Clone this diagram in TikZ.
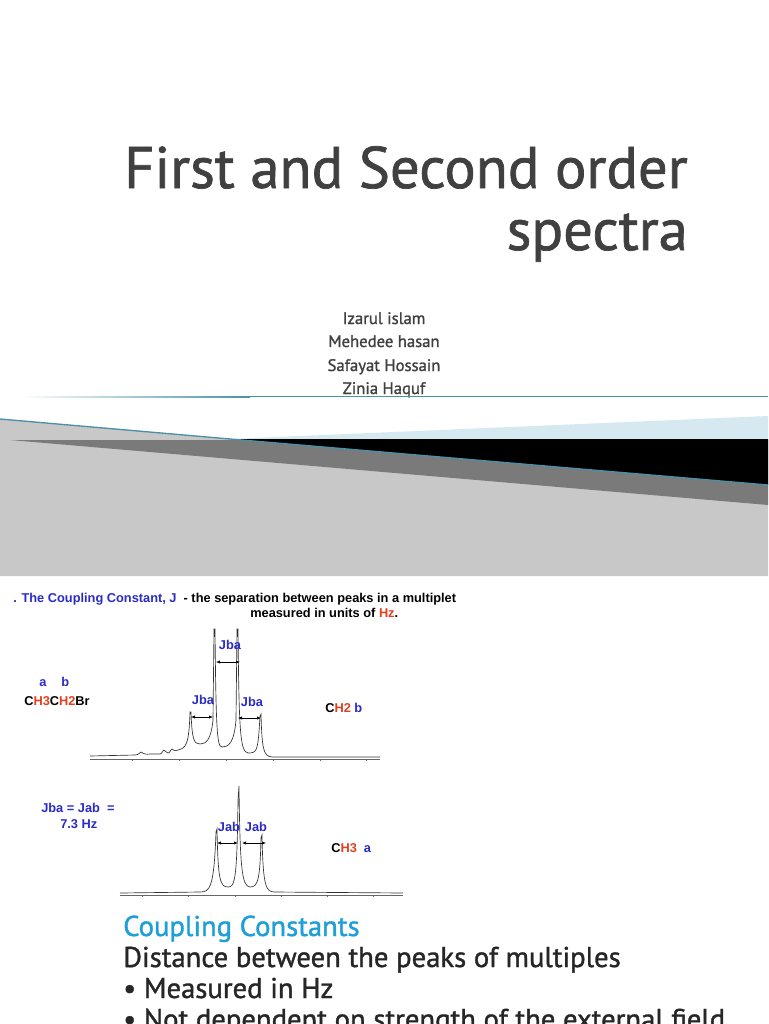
\documentclass[tikz,border=0pt]{standalone}
\usepackage{fontspec}
\setmainfont{PT Sans}
\newfontfamily\ptmed{PT Sans}[FakeBold=1.2]
\newfontfamily\arialb{Liberation Sans Bold}
\usetikzlibrary{arrows.meta}
\definecolor{titlegray}{HTML}{404040}
\definecolor{teal}{HTML}{4A90A8}
\definecolor{lblue}{HTML}{D6E8F0}
\definecolor{bandgray}{HTML}{C8C8C8}
\definecolor{dgray}{HTML}{7A7A7A}
\definecolor{jblue}{HTML}{2B2BC8}
\definecolor{jred}{HTML}{E04020}
\definecolor{ccblue}{HTML}{1E9FD8}
\tikzset{
  sp/.style={font=\arialb\fontsize{9.6}{11}\selectfont, inner sep=0pt},
  jarrow/.style={{Latex[length=3pt,width=2.5pt]}-{Latex[length=3pt,width=2.5pt]}, line width=0.5pt},
  spec/.style={line width=0.5pt, black!80},
  body/.style={anchor=base west, font=\ptmed\fontsize{21.5}{24}\selectfont, inner sep=0pt},
}
\begin{document}
\begin{tikzpicture}[x=0.75pt,y=-0.75pt]
\clip (0,0) rectangle (768,1024);
\fill[white] (0,0) rectangle (768,1024);
% title
\node[anchor=base east, text=titlegray, font=\ptmed\fontsize{44}{50}\selectfont, inner sep=0pt] (t1) at (688,188) {First and Second order};
\node[anchor=base east, text=titlegray, font=\ptmed\fontsize{44}{50}\selectfont, inner sep=0pt] (t2) at (688,250) {spectra};
\foreach \n/\y/\t in {n1/324/Izarul islam, n2/347/Mehedee hasan, n3/371/Safayat Hossain, n4/394/Zinia Haquf}
  \node[anchor=base, text=titlegray, font=\ptmed\fontsize{12.5}{14}\selectfont, inner sep=0pt] (\n) at (384,\y) {\t};
% band
\shade[left color=white, right color=teal] (20,396) rectangle (250,397);
\fill[teal] (250,396) rectangle (768,397);
\fill[bandgray] (0,419) -- (230,439) -- (768,485) -- (768,576) -- (0,576) -- cycle;
\fill[dgray] (10,440) -- (768,440) -- (768,505) -- cycle;
\fill[lblue] (230,439) -- (768,416) -- (768,439) -- cycle;
\fill[black] (230,439) -- (768,439) -- (768,485) -- cycle;
\draw[teal, line width=1pt] (0,419) -- (230,439) -- (768,485);
% spectrum heading
\node[sp, anchor=base west] (h1) at (13,602) {\textcolor{jblue}{. The Coupling Constant, J}\ \ - the separation between peaks in a multiplet};
\node[sp, anchor=base west] (h2) at (250,617) {measured in units of \textcolor{jred}{Hz}.};
\node[sp, anchor=base west, text=jblue] (la) at (39,686) {a};
\node[sp, anchor=base west, text=jblue] (lb) at (61,686) {b};
\node[sp, anchor=base west] (mol) at (24,705) {C\textcolor{jred}{H3}C\textcolor{jred}{H2}Br};
\node[sp, anchor=base west] (ch2) at (325,712) {C\textcolor{jred}{H2} \textcolor{jblue}{b}};
\node[sp, anchor=base west, text=jblue] (eq1) at (41,812) {Jba = Jab \ =};
\node[sp, anchor=base west, text=jblue] (eq2) at (60,828) {7.3 Hz};
\node[sp, anchor=base west] (ch3) at (331,852) {C\textcolor{jred}{H3} \ \textcolor{jblue}{a}};
% top spectrum
\draw[line width=0.3pt, black!60] (90,759) -- (380,759);
\foreach \xx in {132,179,226,273,320,366} \draw[line width=0.3pt, black!60] (\xx,759) -- (\xx,761);
\draw[spec] (90,756) -- (135,755) .. controls (139,755) and (140,752) .. (141,752) .. controls (142,752) and (143,755) .. (150,754)
 -- (160,754) .. controls (162,754) and (163,750) .. (164,750) .. controls (165,750) and (166,753) .. (168,753)
 .. controls (170,753) and (171,749) .. (172,749) .. controls (173,749) and (174,752) .. (178,750)
 .. controls (186,748) and (189,745) .. (190,712) -- (191,712) .. controls (192,740) and (194,744) .. (200,744)
 .. controls (206,744) and (211,740) .. (213,720) -- (214,629) -- (215,629) .. controls (216,730) and (217,747) .. (222,747)
 .. controls (228,747) and (234,744) .. (236,720) -- (237,629) -- (238,629) .. controls (239,730) and (240,752) .. (248,753)
 .. controls (257,753) and (258,752) .. (260,716) -- (261,714) .. controls (262,752) and (264,756) .. (272,757) -- (380,757);
\coordinate (a1l) at (216,662); \coordinate (a1r) at (240,662);
\coordinate (a2l) at (191,717); \coordinate (a2r) at (213,717);
\coordinate (a3l) at (238,718); \coordinate (a3r) at (261,718);
\draw[jarrow] (a1l) -- (a1r);
\draw[jarrow] (a2l) -- (a2r);
\draw[jarrow] (a3l) -- (a3r);
\node[sp, text=jblue, anchor=base] (j1) at (230,649) {Jba};
\node[sp, text=jblue, anchor=base] (j2) at (203,704) {Jba};
\node[sp, text=jblue, anchor=base] (j3) at (252,706) {Jba};
% bottom spectrum
\draw[line width=0.3pt, black!60] (120,895) -- (403,895);
\foreach \xx in {142,188,235,281,327,373} \draw[line width=0.3pt, black!60] (\xx,895) -- (\xx,897);
\draw[spec] (120,893) -- (200,892) .. controls (210,892) and (214,888) .. (216,832) -- (217,829)
 .. controls (218,880) and (220,887) .. (228,887) .. controls (235,887) and (237,880) .. (238,800) -- (239,786)
 .. controls (240,870) and (242,886) .. (250,887) .. controls (258,887) and (260,880) .. (261,838) -- (262,835)
 .. controls (263,888) and (266,892) .. (275,892) -- (403,893);
\coordinate (b1l) at (217,843); \coordinate (b1r) at (238,843);
\coordinate (b2l) at (242,843); \coordinate (b2r) at (266,843);
\draw[jarrow] (b1l) -- (b1r);
\draw[jarrow] (b2l) -- (b2r);
\node[sp, text=jblue, anchor=base] (j4) at (229,831) {Jab};
\node[sp, text=jblue, anchor=base] (j5) at (256,831) {Jab};
% bottom text
\node[body, text=ccblue] (cc) at (123,936) {Coupling Constants};
\node[body, text=black!85] (d1) at (123,967) {Distance between the peaks of multiples};
\node[body, text=black!85] (d2) at (123,998) {\textbullet\ Measured in Hz};
\node[body, text=black!85] (d3) at (123,1029) {\textbullet\ Not dependent on strength of the external field};
\end{tikzpicture}
\end{document}
